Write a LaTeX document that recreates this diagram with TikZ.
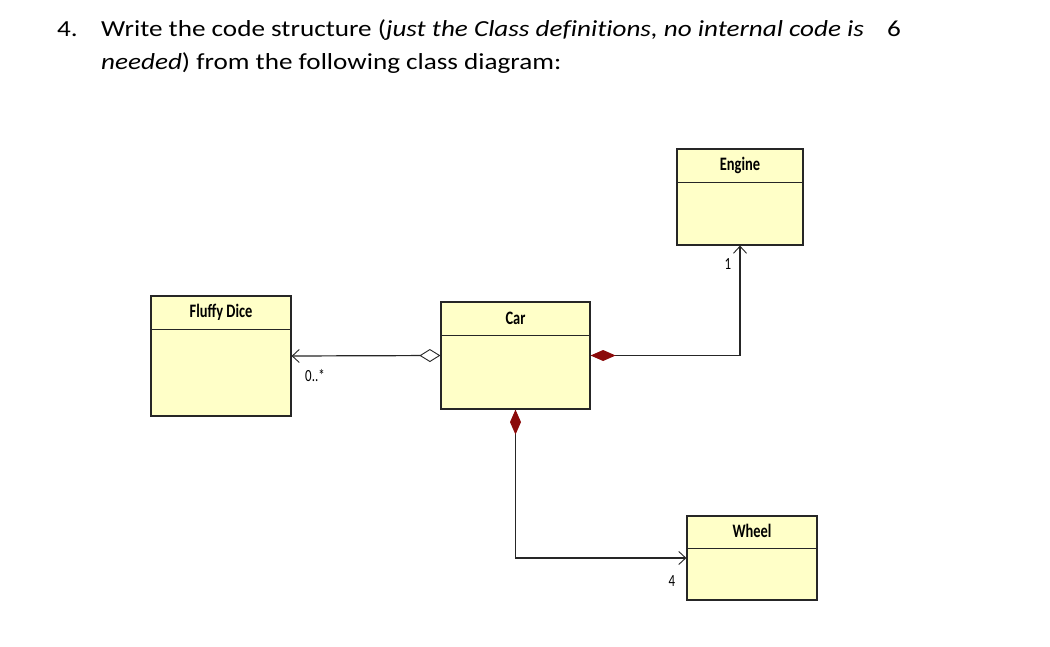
\documentclass[tikz,border=0pt]{standalone}
\usepackage{fontspec}
\setmainfont{Carlito}[FakeStretch=1.18,Ligatures=NoCommon]
\newfontfamily\clsfont{Carlito}[FakeStretch=0.76]
\usetikzlibrary{arrows.meta,calc}
\definecolor{clsfill}{HTML}{FFFFC8}
\definecolor{comp}{HTML}{8B0A0A}
\tikzset{
  cls/.style={draw=black!85, line width=1.2pt, fill=clsfill, inner sep=0pt},
  clsname/.style={font=\clsfont\fontsize{19}{21}\selectfont\bfseries, inner sep=0pt},
  mult/.style={font=\clsfont\fontsize{17}{19}\selectfont, inner sep=0pt},
  qtext/.style={font=\fontsize{23}{28}\selectfont, anchor=base west, inner sep=0pt},
  conn/.style={line width=1.2pt, draw=black!85},
  barb/.tip={Straight Barb[length=7pt,width=13pt,line width=0.9pt]},
  odia/.tip={Diamond[open,length=21pt,width=13pt,line width=0.9pt,fill=white]},
  fdia/.tip={Diamond[length=25pt,width=11pt,fill=comp,color=comp]},
}
\begin{document}
\begin{tikzpicture}[x=1pt,y=-1pt]
\useasboundingbox[fill=white] (0,0) rectangle (1050,647);
% question text
\node[qtext] (num) at (57,37) {4.};
\node[qtext] (l1) at (101,37) {Write the code structure (\textit{just the Class definitions, no internal code is}};
\node[qtext] (mark) at (887,37) {6};
\node[qtext] (l2) at (101,70) {\textit{needed}) from the following class diagram:};
% classes
\node[cls, minimum width=140, minimum height=120] (fluffy) at (221,356) {};
\draw[conn] ($(fluffy.north west)+(0,34)$) -- ($(fluffy.north east)+(0,34)$);
\node[clsname] (fluffyname) at ($(fluffy.north)+(0,17)$) {Fluffy Dice};

\node[cls, minimum width=149, minimum height=107] (car) at (515.5,355.5) {};
\draw[conn] ($(car.north west)+(0,34)$) -- ($(car.north east)+(0,34)$);
\node[clsname] (carname) at ($(car.north)+(0,17)$) {Car};

\node[cls, minimum width=126, minimum height=96] (engine) at (740,197) {};
\draw[conn] ($(engine.north west)+(0,34)$) -- ($(engine.north east)+(0,34)$);
\node[clsname] (enginename) at ($(engine.north)+(0,17)$) {Engine};

\node[cls, minimum width=130, minimum height=84] (wheel) at (752,558) {};
\draw[conn] ($(wheel.north west)+(0,33)$) -- ($(wheel.north east)+(0,33)$);
\node[clsname] (wheelname) at ($(wheel.north)+(0,16)$) {Wheel};
% connectors
\draw[conn, {odia}-{barb}] (car.west) -- (fluffy.east);
\node[mult] (m1) at (315,376) {0..*};
\draw[conn, {fdia}-{barb}] (car.east) -- (car.east -| engine.south) -- (engine.south);
\node[mult] (m2) at (728,264) {1};
\draw[conn, {fdia}-{barb}] (car.south) |- (wheel.west);
\node[mult] (m3) at (672,581) {4};
\end{tikzpicture}
\end{document}
